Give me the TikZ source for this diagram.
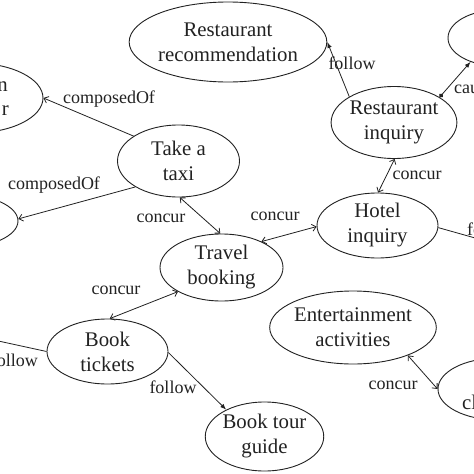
\documentclass[tikz,border=0pt]{standalone}
\usepackage{fontspec}
\setmainfont{Liberation Serif}
\usetikzlibrary{arrows.meta,shapes.geometric}
\definecolor{ink}{HTML}{222222}
\tikzset{
  ev/.style={draw=ink, line width=0.9pt, ellipse, inner sep=0pt, align=center,
    text=ink, font=\fontsize{20.8}{25}\selectfont},
  lbl/.style={text=ink, inner sep=0pt, font=\fontsize{18}{21}\selectfont},
  ln/.style={draw=ink, line width=0.8pt},
  openend/.style={ln, -{Straight Barb[length=4pt,width=7pt]}},
  openboth/.style={ln, {Straight Barb[length=4pt,width=7pt]}-{Straight Barb[length=4pt,width=7pt]}},
  fillend/.style={ln, -{Latex[length=6pt,width=4.5pt]}},
  dotfill/.style={ln, {Circle[length=4.5pt]}-{Latex[length=6pt,width=4.5pt]}},
}
\begin{document}
\begin{tikzpicture}[x=1pt,y=-1pt]
\useasboundingbox (0,0) rectangle (474,474);
\fill[white] (0,0) rectangle (474,474);
\clip (0,0) rectangle (474,474);
% nodes
\node[ev, minimum width=152, minimum height=80] (rr) at (228,42) {Restaurant\\recommendation};
\node[ev, minimum width=140, minimum height=70] (la) at (-27,98) {};
\node[ev, minimum width=120, minimum height=54] (lb) at (-42,221) {};
\node[ev, minimum width=122, minimum height=72] (tt) at (178.5,161) {Take a\\taxi};
\node[ev, minimum width=124, minimum height=72] (ri) at (394,122.5) {Restaurant\\inquiry};
\node[ev, minimum width=100, minimum height=56] (tr) at (498,38) {};
\node[ev, minimum width=121, minimum height=65] (hi) at (377.5,225.5) {Hotel\\inquiry};
\node[ev, minimum width=123, minimum height=67] (tb) at (221.5,267.5) {Travel\\booking};
\node[ev, minimum width=121, minimum height=65] (bt) at (107.5,351.5) {Book\\tickets};
\node[ev, minimum width=113, minimum height=69] (bg) at (264.5,436.5) {Book tour\\guide};
\node[ev, minimum width=144, minimum height=73] (ea) at (353,327.5) {Entertainment\\activities};
\node[ev, minimum width=120, minimum height=62] (br) at (498,389) {};
% partial texts of cut nodes
\node[text=ink, inner sep=0pt, anchor=east, font=\fontsize{20.8}{25}\selectfont] (latxt1) at (8,87) {n};
\node[text=ink, inner sep=0pt, anchor=east, font=\fontsize{20.8}{25}\selectfont] (latxt2) at (9,111) {r};
\node[text=ink, inner sep=0pt, anchor=west, font=\fontsize{20.8}{25}\selectfont] (brtxt) at (462,402) {cl};
% free ends
\coordinate (hiout) at (500,245);
\coordinate (btout) at (-20,337);
% connectors
\draw[openend] (tt.151) -- (la.0);
\draw[openend] (tt.211) -- (lb.2);
\draw[openboth] (tt.272) -- (tb.92);
\draw[fillend] (ri.150) -- (rr.0);
\draw[dotfill] (ri.29) -- (tr.221);
\draw[openboth] (ri.271) -- (hi.89);
\draw[openboth] (hi.181) -- (tb.33);
\draw[ln] (hi.358) -- (hiout);
\draw[openboth] (tb.209) -- (bt.86);
\draw[ln] (bt.180) -- (btout);
\draw[fillend] (bt.359) -- (bg.145);
\draw[openboth] (ea.333) -- (br.180);
% labels
\node[lbl] (l1) at (109,99) {composedOf};
\node[lbl] (l2) at (54,185) {composedOf};
\node[lbl] (l3) at (161,218) {concur};
\node[lbl] (l4) at (352,63) {follow};
\node[lbl, anchor=west] (l5) at (454,89) {cau};
\node[lbl] (l6) at (417,175) {concur};
\node[lbl] (l7) at (275,216) {concur};
\node[lbl, anchor=west] (l8) at (467,229) {follow};
\node[lbl] (l9) at (116,290) {concur};
\node[lbl, anchor=east] (l10) at (38,360) {follow};
\node[lbl] (l11) at (173,387) {follow};
\node[lbl] (l12) at (393,385) {concur};
\end{tikzpicture}
\end{document}
